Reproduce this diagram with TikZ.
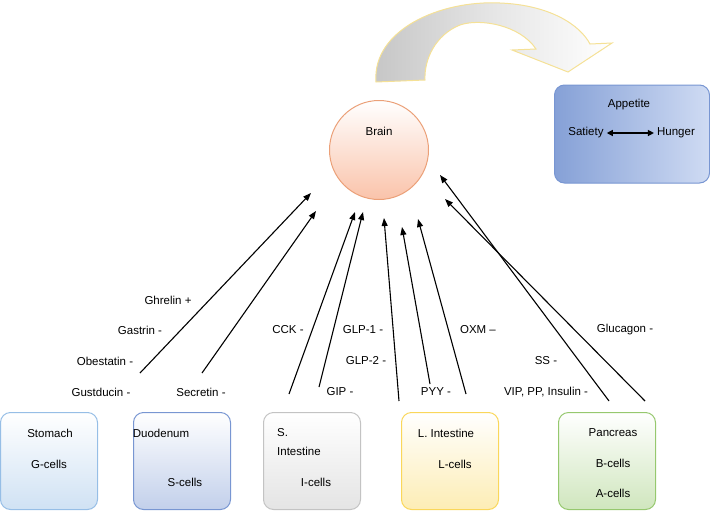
\documentclass[tikz,border=0pt]{standalone}
\usepackage{fontspec}
\setmainfont{Liberation Sans}
\usetikzlibrary{arrows.meta}
\definecolor{stomachc}{RGB}{150,190,230}
\definecolor{duoc}{RGB}{120,150,210}
\definecolor{sintc}{RGB}{195,195,195}
\definecolor{lintc}{RGB}{250,215,90}
\definecolor{pancc}{RGB}{150,200,110}
\definecolor{brainc}{RGB}{235,160,120}
\definecolor{brainf}{RGB}{250,195,170}
\definecolor{appc}{RGB}{120,150,210}
\definecolor{appf}{RGB}{175,195,235}
\definecolor{curvec}{RGB}{245,225,150}
\tikzset{
  organ/.style={draw=#1,line width=1pt,rounded corners=10pt,minimum width=97pt,minimum height=97pt,top color=white,bottom color=#1!45},
  txt/.style={font=\fontsize{11.5}{13}\selectfont,inner sep=1pt},
  hormone/.style={-{Triangle[length=8pt,width=6pt]},line width=1.1pt}
}
\begin{document}
\begin{tikzpicture}[x=1pt,y=-1pt]
		\useasboundingbox (0,0) rectangle (710,512);
		% curved arrow
		\draw[curvec,line width=1pt,left color=gray!45,right color=white,middle color=gray!20]
		  (376,82) .. controls (372,30) and (440,0) .. (500,3) .. controls (550,5) and (580,25) .. (590,44)
		  -- (612,43) -- (568,72) -- (512,50) -- (536,49) .. controls (520,25) and (480,18) .. (460,25)
		  .. controls (435,35) and (424,60) .. (425,80) -- cycle;
		% brain and appetite
		\node[circle,draw=brainc,line width=1pt,minimum size=99pt,top color=white,bottom color=brainf] (brain) at (379,150) {};
		\node[txt] (braint) at (379,131) {Brain};
		\node[draw=appc,line width=1pt,rounded corners=10pt,minimum width=155pt,minimum height=98pt,left color=appc!90,right color=appf!60] (app) at (632,134) {};
		\node[txt] (appt) at (629,105) {Appetite};
		\node[txt] (sat) at (586,133) {Satiety};
		\node[txt] (hun) at (676,133) {Hunger};
		\draw[{Triangle[length=6pt,width=6pt]}-{Triangle[length=6pt,width=6pt]},line width=1.2pt,shorten <=2pt,shorten >=2pt] (sat) -- (hun);
		% organs
		\node[organ=stomachc] (stom) at (49,461) {};
		\node[organ=duoc] (duo) at (182,461) {};
		\node[organ=sintc] (sint) at (312,461) {};
		\node[organ=lintc] (lint) at (450,461) {};
		\node[organ=pancc] (panc) at (607,461) {};
		\node[txt] (stom1) at (50,433) {Stomach};
		\node[txt] (stom2) at (49,464) {G-cells};
		\node[txt] (duo1) at (161,433) {Duodenum};
		\node[txt] (duo2) at (185,482) {S-cells};
		\node[txt,anchor=west] (sint1) at (276,433) {S.};
		\node[txt,anchor=west] (sint2) at (276,451) {Intestine};
		\node[txt] (sint3) at (316,482) {I-cells};
		\node[txt] (lint1) at (446,433) {L. Intestine};
		\node[txt] (lint2) at (455,464) {L-cells};
		\node[txt] (panc1) at (613,433) {Pancreas};
		\node[txt] (panc2) at (613,463) {B-cells};
		\node[txt] (panc3) at (613,493) {A-cells};
		% arrow ends
		\foreach \n/\sx/\sy/\ex/\ey in {a/140/373/311/193, b/202/373/316/211, c/289/394/355/212, d/319/387/363/212,
		  e/399/401/384/218, f/430/384/402/227, g/466/394/418/219, h/609/401/440/175, i/645/401/445/199}{
		  \coordinate (\n s) at (\sx,\sy);
		  \coordinate (\n e) at (\ex,\ey);
		  \draw[hormone] (\n s) -- (\n e);
		}
		% hormone labels
		\foreach \n/\x/\y/\t in {ghr/168/300/{Ghrelin +}, gas/140/330/{Gastrin -}, obe/105/361/{Obestatin -},
		  gus/101/392/{Gustducin -}, sec/201/392/{Secretin -}, cck/288/330/{CCK -}, gip/340/392/{GIP -},
		  glpa/363/330/{GLP-1 -}, glpb/366/361/{GLP-2 -}, pyy/436/392/{PYY -}, oxm/478/330/{OXM --},
		  glu/625/330/{Glucagon -}, ss/546/361/{SS -}, vip/546/392/{VIP, PP, Insulin -}}{
		  \node[txt] (\n) at (\x,\y) {\t};
		}
	\end{tikzpicture}
\end{document}
